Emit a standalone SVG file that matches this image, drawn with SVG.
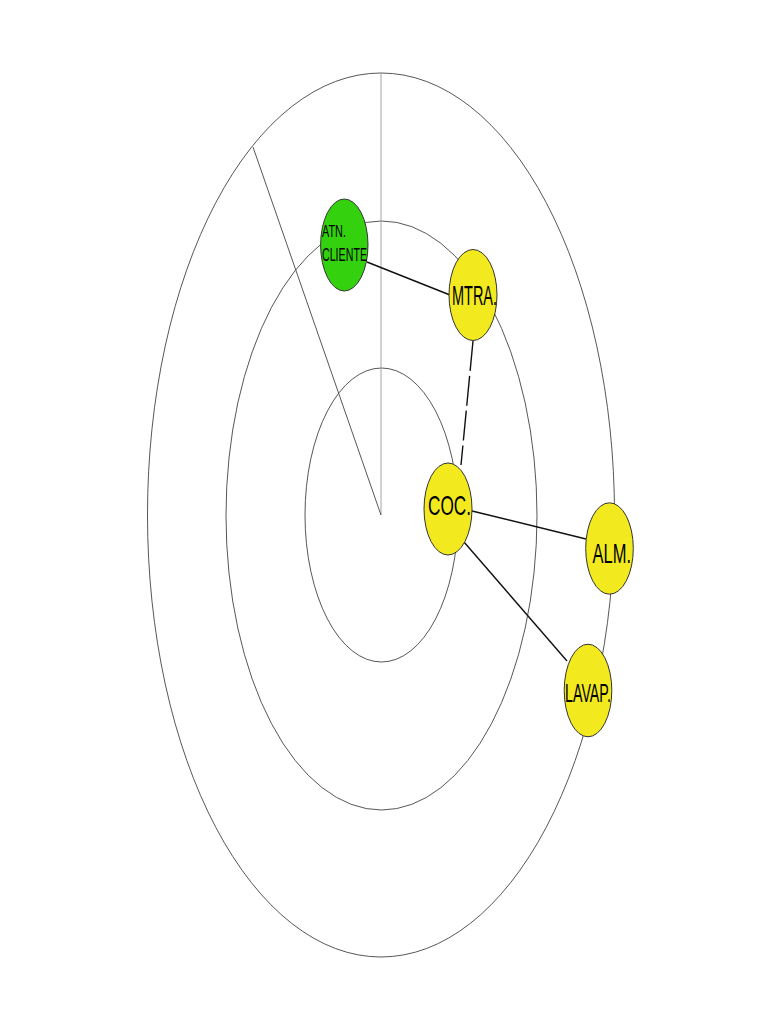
<svg xmlns="http://www.w3.org/2000/svg" width="768" height="1024" viewBox="0 0 768 1024">
<style>
.ring{fill:none;stroke:#444;stroke-width:0.9}
.edge{stroke:#111;stroke-width:1.4;fill:none}
.node{stroke:#333;stroke-width:1}
.y{fill:#f2ea1f}
.g{fill:#33d10e}
.t{font-family:"Liberation Sans",Arial,sans-serif;fill:#000}
</style>
<rect width="768" height="1024" fill="#fff"/>
<g id="rings">
<ellipse class="ring" cx="381" cy="515" rx="233.5" ry="442"/>
<ellipse class="ring" cx="381.5" cy="515.5" rx="155.5" ry="294.5"/>
<ellipse class="ring" cx="381.5" cy="515" rx="76.5" ry="147"/>
<line x1="381" y1="73" x2="381" y2="515" stroke="#999" stroke-width="0.9"/>
<line x1="253" y1="147" x2="381" y2="515" stroke="#444" stroke-width="0.9"/>
</g>
<g id="connectors">
<line class="edge" x1="367" y1="262" x2="450" y2="295"/>
<line class="edge" x1="473" y1="341" x2="461" y2="465" stroke-dasharray="30,5"/>
<line class="edge" x1="472" y1="511" x2="586" y2="539"/>
<line class="edge" x1="464" y1="542" x2="567" y2="661"/>
</g>
<g id="atn">
<ellipse class="node g" cx="344.3" cy="245" rx="23.7" ry="46"/>
<text class="t" x="322" y="237" font-size="17" textLength="24" lengthAdjust="spacingAndGlyphs">ATN.</text>
<text class="t" x="322" y="261" font-size="18" textLength="45" lengthAdjust="spacingAndGlyphs">CLIENTE</text>
</g>
<g id="mtra">
<ellipse class="node y" cx="473" cy="295" rx="24" ry="45.5"/>
<text class="t" x="452" y="305" font-size="27" textLength="45" lengthAdjust="spacingAndGlyphs">MTRA.</text>
</g>
<g id="coc">
<ellipse class="node y" cx="448" cy="509" rx="24" ry="46"/>
<text class="t" x="428" y="515" font-size="28" textLength="43" lengthAdjust="spacingAndGlyphs">COC.</text>
</g>
<g id="alm">
<ellipse class="node y" cx="609.5" cy="548.5" rx="23.8" ry="45.7"/>
<text class="t" x="592.5" y="563" font-size="27" textLength="38.5" lengthAdjust="spacingAndGlyphs">ALM.</text>
</g>
<g id="lavap">
<ellipse class="node y" cx="588" cy="690.5" rx="23.8" ry="46.3"/>
<text class="t" x="565" y="702" font-size="25" textLength="46" lengthAdjust="spacingAndGlyphs">LAVAP.</text>
</g>
</svg>
